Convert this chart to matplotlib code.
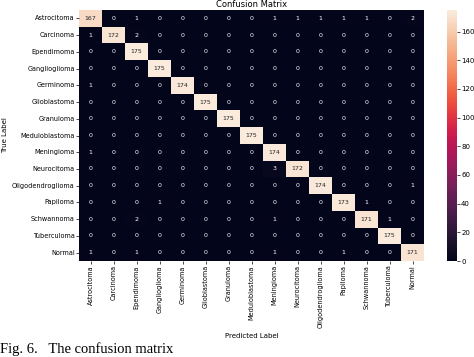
import numpy as np
import matplotlib
matplotlib.use("Agg")
import matplotlib.pyplot as plt
import seaborn as sns

labels = ["Astrocitoma", "Carcinoma", "Ependimoma", "Ganglioglioma", "Germinoma",
          "Glioblastoma", "Granuloma", "Meduloblastoma", "Meningioma", "Neurocitoma",
          "Oligodendroglioma", "Papiloma", "Schwannoma", "Tuberculoma", "Normal"]

# rows = true label, columns = predicted label
cm = [
    [167, 0, 1, 0, 0, 0, 0, 0, 1, 1, 1, 1, 1, 0, 2],
    [1, 172, 2, 0, 0, 0, 0, 0, 0, 0, 0, 0, 0, 0, 0],
    [0, 0, 175, 0, 0, 0, 0, 0, 0, 0, 0, 0, 0, 0, 0],
    [0, 0, 0, 175, 0, 0, 0, 0, 0, 0, 0, 0, 0, 0, 0],
    [1, 0, 0, 0, 174, 0, 0, 0, 0, 0, 0, 0, 0, 0, 0],
    [0, 0, 0, 0, 0, 175, 0, 0, 0, 0, 0, 0, 0, 0, 0],
    [0, 0, 0, 0, 0, 0, 175, 0, 0, 0, 0, 0, 0, 0, 0],
    [0, 0, 0, 0, 0, 0, 0, 175, 0, 0, 0, 0, 0, 0, 0],
    [1, 0, 0, 0, 0, 0, 0, 0, 174, 0, 0, 0, 0, 0, 0],
    [0, 0, 0, 0, 0, 0, 0, 0, 3, 172, 0, 0, 0, 0, 0],
    [0, 0, 0, 0, 0, 0, 0, 0, 0, 0, 174, 0, 0, 0, 1],
    [0, 0, 0, 1, 0, 0, 0, 0, 0, 0, 0, 173, 1, 0, 0],
    [0, 0, 2, 0, 0, 0, 0, 0, 1, 0, 0, 0, 171, 1, 0],
    [0, 0, 0, 0, 0, 0, 0, 0, 0, 0, 0, 0, 0, 175, 0],
    [1, 0, 1, 0, 0, 0, 0, 0, 1, 0, 0, 1, 0, 0, 171],
]

W, H = 474, 357
fig = plt.figure(figsize=(W / 100, H / 100), dpi=100)
ax = fig.add_axes([79 / W, 1 - 261 / H, 345 / W, 251 / H])
cax = fig.add_axes([447 / W, 1 - 261 / H, 10 / W, 251 / H])

sns.heatmap(np.array(cm), annot=True, fmt="d", cmap="rocket", ax=ax, cbar_ax=cax,
            xticklabels=labels, yticklabels=labels,
            annot_kws={"fontsize": 4.5})

ax.set_title("Confusion Matrix", fontsize=6, pad=2)
ax.set_xlabel("Predicted Label", fontsize=5, labelpad=4)
ax.set_ylabel("True Label", fontsize=5)
ax.yaxis.set_label_coords(-0.205, 0.5)
ax.tick_params(axis="both", labelsize=4.7, length=2, width=0.5, pad=1)
plt.setp(ax.get_xticklabels(), rotation=90)
plt.setp(ax.get_yticklabels(), rotation=0)

cax.tick_params(labelsize=5, length=2, width=0.5, pad=1)
cax.set_yticks(range(0, 161, 20))
for s in cax.spines.values():
    s.set_visible(False)

fig.text(0.0, 1.5 / H, "Fig. 6.   The confusion matrix", fontsize=10.5,
         family="Liberation Serif", va="bottom", ha="left")

fig.savefig("out.png", dpi=100)
